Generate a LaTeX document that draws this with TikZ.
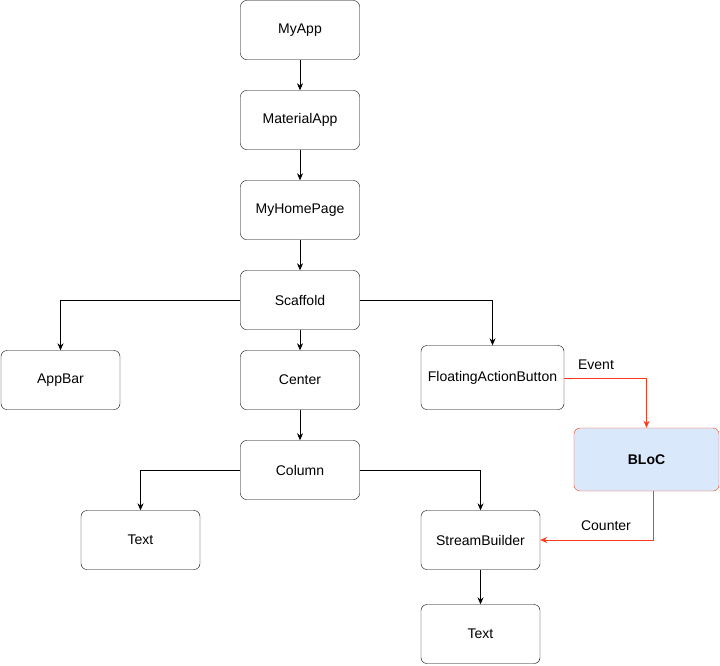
\documentclass[tikz,border=0pt]{standalone}
\usepackage{fontspec}
\setmainfont{Liberation Sans}
\usetikzlibrary{arrows.meta}
\definecolor{redl}{HTML}{FF3A1A}
\definecolor{bluef}{HTML}{DAE8FC}
\begin{document}
\begin{tikzpicture}[x=1pt,y=-1pt,
  box/.style={draw=black,rounded corners=6pt,minimum width=119pt,minimum height=59pt,font=\fontsize{14}{16}\selectfont,fill=white},
  arr/.style={-{Stealth[length=7pt,width=6pt]},line width=0.7pt},
  rarr/.style={arr,draw=redl,color=redl},
  lab/.style={font=\fontsize{14}{16}\selectfont,text=black}]
\useasboundingbox (0,0) rectangle (720,665);
\node[box] (myapp) at (300,30) {MyApp};
\node[box] (mat) at (300,120) {MaterialApp};
\node[box] (home) at (300,210) {MyHomePage};
\node[box] (scaf) at (300,300) {Scaffold};
\node[box] (appbar) at (60.5,380) {AppBar};
\node[box] (center) at (300,380) {Center};
\node[box,minimum width=143pt,minimum height=64pt] (fab) at (492.5,377.5) {FloatingActionButton};
\node[box,draw=redl,fill=bluef,minimum width=145pt,minimum height=63pt,font=\fontsize{14}{16}\selectfont\bfseries] (bloc) at (646.5,459.5) {BLoC};
\node[box] (col) at (300,470) {Column};
\node[box] (text1) at (140.5,540) {Text};
\node[box] (sb) at (480.5,540) {StreamBuilder};
\node[box] (text2) at (480.5,634) {Text};
\draw[arr] (myapp) -- (mat);
\draw[arr] (mat) -- (home);
\draw[arr] (home) -- (scaf);
\draw[arr] (scaf) -- (center);
\draw[arr] (center) -- (col);
\draw[arr] (sb) -- (text2);
\draw[arr] (scaf.west) -| (appbar.north);
\draw[arr] (scaf.east) -| (fab.north);
\draw[arr] (col.west) -| (text1.north);
\draw[arr] (col.east) -| (sb.north);
\coordinate (fabe) at (fab.east |- 0,378);
\draw[rarr] (fabe) -| (bloc.north);
\node[lab] (ev) at (596,365) {Event};
\coordinate (blocb) at (653,491);
\draw[rarr] (blocb) |- (sb.east);
\node[lab] (ct) at (606,526) {Counter};
\end{tikzpicture}
\end{document}
